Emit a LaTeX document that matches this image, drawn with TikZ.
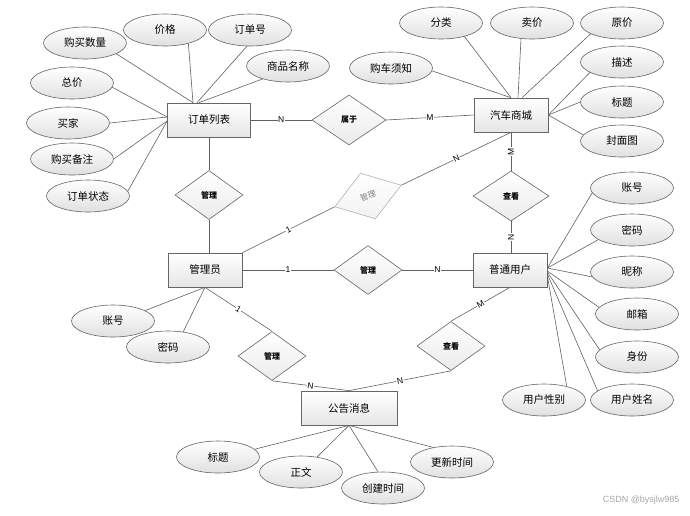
\documentclass[tikz,border=0pt]{standalone}
\usepackage{fontspec}
\setmainfont{Liberation Sans}
\newfontfamily\cjk{Noto Sans CJK SC}
\usetikzlibrary{shapes.geometric,calc}
\begin{document}
\begin{tikzpicture}[x=1pt,y=-1pt,
 ln/.style={draw=black!62, line width=0.6pt},
 ent/.style={rectangle, draw=black!60, line width=0.7pt, top color=white, bottom color=black!10,
   minimum width=74pt, minimum height=34pt, inner sep=0pt, font=\cjk\fontsize{10.5}{12}\selectfont},
 attr/.style={ellipse, draw=black!60, line width=0.6pt, top color=white, bottom color=black!12,
   minimum width=83pt, minimum height=32pt, inner sep=0pt, font=\cjk\fontsize{10.5}{12}\selectfont},
 rel/.style={diamond, draw=black!60, line width=0.6pt, top color=white, bottom color=black!8,
   minimum width=68pt, minimum height=49pt, inner sep=0pt, font=\cjk\bfseries\fontsize{8}{10}\selectfont},
 card/.style={fill=white, inner sep=0.6pt, font=\fontsize{8.5}{10}\selectfont},
]
\fill[white] (0,0) rectangle (690,515);
\useasboundingbox (0,0) rectangle (690,515);

% entities
\node[ent, minimum width=83pt] (ol) at (209,120) {订单列表};
\node[ent] (mall) at (511,115) {汽车商城};
\node[ent] (admin) at (205,270) {管理员};
\node[ent] (user) at (510,270) {普通用户};
\node[ent, minimum width=96pt] (notice) at (349,408) {公告消息};

% relations
\node[rel, minimum width=74pt, minimum height=50pt] (belong) at (349,120) {属于};
\node[rel] (r1) at (209,195) {管理};
\node[rel, draw=black!30, top color=white, bottom color=black!5, text=black!50,
  font=\cjk\fontsize{8}{10}\selectfont, rotate=18, minimum width=70pt, minimum height=48pt] (r2) at (368,196) {管理};
\node[rel, minimum width=76pt, minimum height=50pt] (r3) at (511,196) {查看};
\node[rel] (r4) at (368,270) {管理};
\node[rel] (r5) at (451,346) {查看};
\node[rel] (r6) at (272,356) {管理};

% order attributes
\node[attr] (o1) at (85,43) {购买数量};
\node[attr] (o2) at (165,30) {价格};
\node[attr] (o3) at (250,30) {订单号};
\node[attr] (o4) at (288,66) {商品名称};
\node[attr] (o5) at (72,83) {总价};
\node[attr] (o6) at (68,123) {买家};
\node[attr] (o7) at (72,159) {购买备注};
\node[attr] (o8) at (88,196) {订单状态};
\draw[ln] (o1.-19) -- ($(ol.north)+(-16,0)$);
\draw[ln] (o2.-30) -- ($(ol.north)+(-16,0)$);
\draw[ln] (o3.-101) -- ($(ol.north)+(-12,0)$);
\draw[ln] (o4.-153) -- ($(ol.north)+(-10,0)$);
\draw[ln] (o5.-6) -- ($(ol.west)+(0,-3)$);
\draw[ln] (o6.east) -- ($(ol.west)+(0,-3)$);
\draw[ln] (o7.east) -- ($(ol.west)+(0,1)$);
\draw[ln] (o8.7) -- ($(ol.west)+(0,1)$);

% mall attributes
\node[attr] (m1) at (391,68) {购车须知};
\node[attr] (m2) at (441,23) {分类};
\node[attr] (m3) at (532,23) {卖价};
\node[attr] (m4) at (622,23) {原价};
\node[attr] (m5) at (622,62) {描述};
\node[attr] (m6) at (622,102) {标题};
\node[attr] (m7) at (622,141) {封面图};
\draw[ln] (m1.-4) -- (mall.north);
\draw[ln] (m2.-30) -- (mall.north);
\draw[ln] (m3.-125) -- ($(mall.north)+(7,0)$);
\draw[ln] (m4.-161) -- ($(mall.north)+(11,0)$);
\draw[ln] (m5.-162) -- (mall.east);
\draw[ln] (m6.west) -- (mall.east);
\draw[ln] (m7.171) -- (mall.east);

% user attributes
\node[attr] (u1) at (632,188) {账号};
\node[attr] (u2) at (632,230) {密码};
\node[attr] (u3) at (632,272) {昵称};
\node[attr] (u4) at (637,314) {邮箱};
\node[attr] (u5) at (637,357) {身份};
\node[attr] (u6) at (632,400) {用户姓名};
\node[attr] (u7) at (544,400) {用户性别};
\draw[ln] (u1.-173) -- ($(user.east)+(0,-2)$);
\draw[ln] (u2.-164) -- ($(user.east)+(0,-2)$);
\draw[ln] (u3.-173) -- ($(user.east)+(0,-2)$);
\draw[ln] (u4.170) -- ($(user.east)+(0,1)$);
\draw[ln] (u5.169) -- ($(user.east)+(0,2)$);
\draw[ln] (u6.165) -- ($(user.east)+(0,4)$);
\draw[ln] (u7.31) -- ($(user.east)+(0,6)$);

% admin attributes
\node[attr] (d1) at (113,321) {账号};
\node[attr] (d2) at (168,347) {密码};
\draw[ln] (d1.18) -- (admin.south);
\draw[ln] (d2.45) -- (admin.south);

% notice attributes
\node[attr] (n1) at (218,457) {标题};
\node[attr] (n2) at (301,472) {正文};
\node[attr] (n3) at (383,488) {创建时间};
\node[attr] (n4) at (452,462) {更新时间};
\draw[ln] (n1.12) -- (notice.south);
\draw[ln] (n2.43) -- (notice.south);
\draw[ln] (n3.107) -- (notice.south);
\draw[ln] (n4.142) -- (notice.south);

% relationships
\draw[ln] (ol.east) -- node[card]{N} (belong.west);
\draw[ln] (belong.east) -- node[card]{M} (mall.west);
\draw[ln] (ol.south) -- (r1.north);
\draw[ln] (r1.south) -- (r1.south |- admin.north);
\draw[ln] (admin.north east) -- node[card, sloped]{1} (r2.west);
\draw[ln] (r2.east) -- node[card, sloped]{N} (mall.south);
\draw[ln] (mall.south) -- node[card, rotate=90]{M} (r3.north);
\draw[ln] (r3.south) -- node[card, rotate=90]{N} (r3.south |- user.north);
\draw[ln] (admin.east) -- node[card]{1} (r4.west);
\draw[ln] (r4.east) -- node[card]{N} (user.west);
\draw[ln] (user.south) -- node[card, sloped]{M} (r5.north);
\draw[ln] (r5.south) -- node[card, sloped]{N} (notice.north);
\draw[ln] (admin.south) -- node[card, sloped]{1} (r6.north);
\draw[ln] (r6.south) -- node[card, sloped]{N} (notice.north);

% watermark
\node[font=\fontsize{9}{10}\selectfont, text=black!35, anchor=east] (wm) at (683,500) {CSDN @bysjlw985};
\end{tikzpicture}
\end{document}
